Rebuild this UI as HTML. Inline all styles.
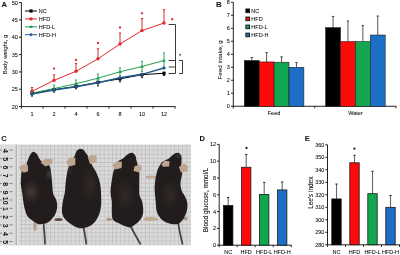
<!DOCTYPE html>
<html><head><meta charset="utf-8"><style>
html,body{margin:0;padding:0;background:#fff;}
svg{display:block;font-family:"Liberation Sans", sans-serif;filter:blur(0.35px);}
</style></head><body>
<svg width="400" height="255" viewBox="0 0 400 255">
<rect width="400" height="255" fill="#fff"/>
<text x="4.20" y="6.70" font-size="7.6" text-anchor="middle" font-weight="bold" fill="#111" stroke="#111" stroke-width="0.03" >A</text>
<line x1="21.40" y1="2.60" x2="21.40" y2="108.60" stroke="#222" stroke-width="1"/>
<line x1="20.90" y1="106.60" x2="175.50" y2="106.60" stroke="#222" stroke-width="1"/>
<line x1="19.00" y1="106.60" x2="21.40" y2="106.60" stroke="#222" stroke-width="1"/>
<text x="17.80" y="108.60" font-size="5.5" text-anchor="end" font-weight="normal" fill="#000" stroke="#000" stroke-width="0.04" >20</text>
<line x1="19.00" y1="89.27" x2="21.40" y2="89.27" stroke="#222" stroke-width="1"/>
<text x="17.80" y="91.27" font-size="5.5" text-anchor="end" font-weight="normal" fill="#000" stroke="#000" stroke-width="0.04" >25</text>
<line x1="19.00" y1="71.93" x2="21.40" y2="71.93" stroke="#222" stroke-width="1"/>
<text x="17.80" y="73.93" font-size="5.5" text-anchor="end" font-weight="normal" fill="#000" stroke="#000" stroke-width="0.04" >30</text>
<line x1="19.00" y1="54.60" x2="21.40" y2="54.60" stroke="#222" stroke-width="1"/>
<text x="17.80" y="56.60" font-size="5.5" text-anchor="end" font-weight="normal" fill="#000" stroke="#000" stroke-width="0.04" >35</text>
<line x1="19.00" y1="37.27" x2="21.40" y2="37.27" stroke="#222" stroke-width="1"/>
<text x="17.80" y="39.27" font-size="5.5" text-anchor="end" font-weight="normal" fill="#000" stroke="#000" stroke-width="0.04" >40</text>
<line x1="19.00" y1="19.93" x2="21.40" y2="19.93" stroke="#222" stroke-width="1"/>
<text x="17.80" y="21.93" font-size="5.5" text-anchor="end" font-weight="normal" fill="#000" stroke="#000" stroke-width="0.04" >45</text>
<line x1="19.00" y1="2.60" x2="21.40" y2="2.60" stroke="#222" stroke-width="1"/>
<text x="17.80" y="4.60" font-size="5.5" text-anchor="end" font-weight="normal" fill="#000" stroke="#000" stroke-width="0.04" >50</text>
<line x1="43.00" y1="106.60" x2="43.00" y2="108.60" stroke="#222" stroke-width="1"/>
<text x="32.00" y="115.60" font-size="5.5" text-anchor="middle" font-weight="normal" fill="#000" stroke="#000" stroke-width="0.04" >1</text>
<line x1="65.00" y1="106.60" x2="65.00" y2="108.60" stroke="#222" stroke-width="1"/>
<text x="54.00" y="115.60" font-size="5.5" text-anchor="middle" font-weight="normal" fill="#000" stroke="#000" stroke-width="0.04" >2</text>
<line x1="87.00" y1="106.60" x2="87.00" y2="108.60" stroke="#222" stroke-width="1"/>
<text x="76.00" y="115.60" font-size="5.5" text-anchor="middle" font-weight="normal" fill="#000" stroke="#000" stroke-width="0.04" >4</text>
<line x1="109.00" y1="106.60" x2="109.00" y2="108.60" stroke="#222" stroke-width="1"/>
<text x="98.00" y="115.60" font-size="5.5" text-anchor="middle" font-weight="normal" fill="#000" stroke="#000" stroke-width="0.04" >6</text>
<line x1="131.00" y1="106.60" x2="131.00" y2="108.60" stroke="#222" stroke-width="1"/>
<text x="120.00" y="115.60" font-size="5.5" text-anchor="middle" font-weight="normal" fill="#000" stroke="#000" stroke-width="0.04" >8</text>
<line x1="153.00" y1="106.60" x2="153.00" y2="108.60" stroke="#222" stroke-width="1"/>
<text x="142.00" y="115.60" font-size="5.5" text-anchor="middle" font-weight="normal" fill="#000" stroke="#000" stroke-width="0.04" >10</text>
<line x1="175.00" y1="106.60" x2="175.00" y2="108.60" stroke="#222" stroke-width="1"/>
<text x="164.00" y="115.60" font-size="5.5" text-anchor="middle" font-weight="normal" fill="#000" stroke="#000" stroke-width="0.04" >12</text>
<text x="0.00" y="0.00" font-size="6.1" text-anchor="middle" font-weight="normal" fill="#000" stroke="#000" stroke-width="0.04" transform="translate(6.8,54.6) rotate(-90)">Body weight, g</text>
<line x1="32.00" y1="93.43" x2="32.00" y2="95.70" stroke="#000" stroke-width="0.8"/>
<line x1="31.00" y1="95.70" x2="33.00" y2="95.70" stroke="#000" stroke-width="0.8"/>
<line x1="54.00" y1="89.61" x2="54.00" y2="92.20" stroke="#000" stroke-width="0.8"/>
<line x1="53.00" y1="92.20" x2="55.00" y2="92.20" stroke="#000" stroke-width="0.8"/>
<line x1="76.00" y1="86.49" x2="76.00" y2="88.80" stroke="#000" stroke-width="0.8"/>
<line x1="75.00" y1="88.80" x2="77.00" y2="88.80" stroke="#000" stroke-width="0.8"/>
<line x1="98.00" y1="82.33" x2="98.00" y2="86.00" stroke="#000" stroke-width="0.8"/>
<line x1="97.00" y1="86.00" x2="99.00" y2="86.00" stroke="#000" stroke-width="0.8"/>
<line x1="120.00" y1="78.87" x2="120.00" y2="81.90" stroke="#000" stroke-width="0.8"/>
<line x1="119.00" y1="81.90" x2="121.00" y2="81.90" stroke="#000" stroke-width="0.8"/>
<line x1="142.00" y1="74.71" x2="142.00" y2="77.60" stroke="#000" stroke-width="0.8"/>
<line x1="141.00" y1="77.60" x2="143.00" y2="77.60" stroke="#000" stroke-width="0.8"/>
<line x1="164.00" y1="73.22" x2="164.00" y2="75.50" stroke="#000" stroke-width="0.8"/>
<line x1="163.00" y1="75.50" x2="165.00" y2="75.50" stroke="#000" stroke-width="0.8"/>
<line x1="32.00" y1="96.55" x2="32.00" y2="89.61" stroke="#1fa04c" stroke-width="0.9"/>
<line x1="31.00" y1="89.61" x2="33.00" y2="89.61" stroke="#1fa04c" stroke-width="0.9"/>
<line x1="31.00" y1="96.55" x2="33.00" y2="96.55" stroke="#1fa04c" stroke-width="0.9"/>
<line x1="54.00" y1="91.95" x2="54.00" y2="85.20" stroke="#1fa04c" stroke-width="0.9"/>
<line x1="53.00" y1="85.20" x2="55.00" y2="85.20" stroke="#1fa04c" stroke-width="0.9"/>
<line x1="53.00" y1="91.95" x2="55.00" y2="91.95" stroke="#1fa04c" stroke-width="0.9"/>
<line x1="76.00" y1="87.44" x2="76.00" y2="80.00" stroke="#1fa04c" stroke-width="0.9"/>
<line x1="75.00" y1="80.00" x2="77.00" y2="80.00" stroke="#1fa04c" stroke-width="0.9"/>
<line x1="75.00" y1="87.44" x2="77.00" y2="87.44" stroke="#1fa04c" stroke-width="0.9"/>
<line x1="98.00" y1="82.35" x2="98.00" y2="74.00" stroke="#1fa04c" stroke-width="0.9"/>
<line x1="97.00" y1="74.00" x2="99.00" y2="74.00" stroke="#1fa04c" stroke-width="0.9"/>
<line x1="97.00" y1="82.35" x2="99.00" y2="82.35" stroke="#1fa04c" stroke-width="0.9"/>
<line x1="120.00" y1="75.62" x2="120.00" y2="67.90" stroke="#1fa04c" stroke-width="0.9"/>
<line x1="119.00" y1="67.90" x2="121.00" y2="67.90" stroke="#1fa04c" stroke-width="0.9"/>
<line x1="119.00" y1="75.62" x2="121.00" y2="75.62" stroke="#1fa04c" stroke-width="0.9"/>
<line x1="142.00" y1="71.58" x2="142.00" y2="61.40" stroke="#1fa04c" stroke-width="0.9"/>
<line x1="141.00" y1="61.40" x2="143.00" y2="61.40" stroke="#1fa04c" stroke-width="0.9"/>
<line x1="141.00" y1="71.58" x2="143.00" y2="71.58" stroke="#1fa04c" stroke-width="0.9"/>
<line x1="164.00" y1="68.09" x2="164.00" y2="52.90" stroke="#1fa04c" stroke-width="0.9"/>
<line x1="163.00" y1="52.90" x2="165.00" y2="52.90" stroke="#1fa04c" stroke-width="0.9"/>
<line x1="163.00" y1="68.09" x2="165.00" y2="68.09" stroke="#1fa04c" stroke-width="0.9"/>
<line x1="32.00" y1="91.35" x2="32.00" y2="87.50" stroke="#d42a2f" stroke-width="1.0"/>
<line x1="30.90" y1="87.50" x2="33.10" y2="87.50" stroke="#d42a2f" stroke-width="1.0"/>
<line x1="54.00" y1="80.39" x2="54.00" y2="74.90" stroke="#d42a2f" stroke-width="1.0"/>
<line x1="52.90" y1="74.90" x2="55.10" y2="74.90" stroke="#d42a2f" stroke-width="1.0"/>
<line x1="76.00" y1="71.31" x2="76.00" y2="63.50" stroke="#d42a2f" stroke-width="1.0"/>
<line x1="74.90" y1="63.50" x2="77.10" y2="63.50" stroke="#d42a2f" stroke-width="1.0"/>
<line x1="98.00" y1="58.79" x2="98.00" y2="48.70" stroke="#d42a2f" stroke-width="1.0"/>
<line x1="96.90" y1="48.70" x2="99.10" y2="48.70" stroke="#d42a2f" stroke-width="1.0"/>
<line x1="120.00" y1="43.99" x2="120.00" y2="33.00" stroke="#d42a2f" stroke-width="1.0"/>
<line x1="118.90" y1="33.00" x2="121.10" y2="33.00" stroke="#d42a2f" stroke-width="1.0"/>
<line x1="142.00" y1="30.61" x2="142.00" y2="18.50" stroke="#d42a2f" stroke-width="1.0"/>
<line x1="140.90" y1="18.50" x2="143.10" y2="18.50" stroke="#d42a2f" stroke-width="1.0"/>
<line x1="164.00" y1="23.02" x2="164.00" y2="9.70" stroke="#d42a2f" stroke-width="1.0"/>
<line x1="162.90" y1="9.70" x2="165.10" y2="9.70" stroke="#d42a2f" stroke-width="1.0"/>
<polyline points="32.00,93.43 54.00,89.61 76.00,86.49 98.00,82.33 120.00,78.87 142.00,74.71 164.00,73.22" fill="none" stroke="#000" stroke-width="1.0"/>
<polyline points="32.00,93.08 54.00,88.57 76.00,83.72 98.00,78.17 120.00,71.76 142.00,66.49 164.00,60.49" fill="none" stroke="#1fa04c" stroke-width="1.0"/>
<polyline points="32.00,91.35 54.00,80.39 76.00,71.31 98.00,58.79 120.00,43.99 142.00,30.61 164.00,23.02" fill="none" stroke="#e02a2e" stroke-width="1.0"/>
<polyline points="32.00,94.12 54.00,89.96 76.00,86.67 98.00,82.68 120.00,77.83 142.00,74.36 164.00,67.91" fill="none" stroke="#24598f" stroke-width="1.5"/>
<rect x="30.40" y="91.83" width="3.2" height="3.2" fill="#000"/>
<circle cx="32.00" cy="91.35" r="1.7" fill="#e02a2e"/>
<polygon points="30.20,94.38 33.80,94.38 32.00,91.28" fill="#1fa04c"/>
<rect x="30.60" y="92.72" width="2.8" height="2.8" fill="#24598f" transform="rotate(45 32.00 94.12)"/>
<rect x="52.40" y="88.01" width="3.2" height="3.2" fill="#000"/>
<circle cx="54.00" cy="80.39" r="1.7" fill="#e02a2e"/>
<polygon points="52.20,89.87 55.80,89.87 54.00,86.77" fill="#1fa04c"/>
<rect x="52.60" y="88.56" width="2.8" height="2.8" fill="#24598f" transform="rotate(45 54.00 89.96)"/>
<rect x="74.40" y="84.89" width="3.2" height="3.2" fill="#000"/>
<circle cx="76.00" cy="71.31" r="1.7" fill="#e02a2e"/>
<polygon points="74.20,85.02 77.80,85.02 76.00,81.92" fill="#1fa04c"/>
<rect x="74.60" y="85.27" width="2.8" height="2.8" fill="#24598f" transform="rotate(45 76.00 86.67)"/>
<rect x="96.40" y="80.73" width="3.2" height="3.2" fill="#000"/>
<circle cx="98.00" cy="58.79" r="1.7" fill="#e02a2e"/>
<polygon points="96.20,79.47 99.80,79.47 98.00,76.37" fill="#1fa04c"/>
<rect x="96.60" y="81.28" width="2.8" height="2.8" fill="#24598f" transform="rotate(45 98.00 82.68)"/>
<rect x="118.40" y="77.27" width="3.2" height="3.2" fill="#000"/>
<circle cx="120.00" cy="43.99" r="1.7" fill="#e02a2e"/>
<polygon points="118.20,73.06 121.80,73.06 120.00,69.96" fill="#1fa04c"/>
<rect x="118.60" y="76.43" width="2.8" height="2.8" fill="#24598f" transform="rotate(45 120.00 77.83)"/>
<rect x="140.40" y="73.11" width="3.2" height="3.2" fill="#000"/>
<circle cx="142.00" cy="30.61" r="1.7" fill="#e02a2e"/>
<polygon points="140.20,67.79 143.80,67.79 142.00,64.69" fill="#1fa04c"/>
<rect x="140.60" y="72.96" width="2.8" height="2.8" fill="#24598f" transform="rotate(45 142.00 74.36)"/>
<rect x="162.40" y="71.62" width="3.2" height="3.2" fill="#000"/>
<circle cx="164.00" cy="23.02" r="1.7" fill="#e02a2e"/>
<polygon points="162.20,61.79 165.80,61.79 164.00,58.69" fill="#1fa04c"/>
<rect x="162.60" y="66.51" width="2.8" height="2.8" fill="#24598f" transform="rotate(45 164.00 67.91)"/>
<circle cx="54" cy="68.6" r="1.15" fill="#d42a2f"/>
<circle cx="76" cy="60" r="1.15" fill="#d42a2f"/>
<circle cx="98" cy="43" r="1.15" fill="#d42a2f"/>
<circle cx="120" cy="27.5" r="1.15" fill="#d42a2f"/>
<circle cx="142" cy="13.3" r="1.15" fill="#d42a2f"/>
<circle cx="172.2" cy="19.2" r="1.15" fill="#d42a2f"/>
<line x1="168.60" y1="24.50" x2="175.50" y2="24.50" stroke="#3c3c3c" stroke-width="1.0"/>
<line x1="175.50" y1="24.50" x2="175.50" y2="73.50" stroke="#3c3c3c" stroke-width="1.0"/>
<line x1="168.60" y1="73.50" x2="175.50" y2="73.50" stroke="#3c3c3c" stroke-width="1.0"/>
<line x1="168.60" y1="60.50" x2="175.50" y2="60.50" stroke="#3c3c3c" stroke-width="1.0"/>
<line x1="168.60" y1="67.00" x2="175.50" y2="67.00" stroke="#3c3c3c" stroke-width="1.0"/>
<line x1="179.00" y1="60.50" x2="182.50" y2="60.50" stroke="#3c3c3c" stroke-width="1.0"/>
<line x1="182.50" y1="60.50" x2="182.50" y2="73.50" stroke="#3c3c3c" stroke-width="1.0"/>
<line x1="179.00" y1="73.50" x2="182.50" y2="73.50" stroke="#3c3c3c" stroke-width="1.0"/>
<circle cx="180.2" cy="54.8" r="1.0" fill="#3f6f62"/>
<line x1="25.00" y1="11.00" x2="37.00" y2="11.00" stroke="#000" stroke-width="1"/>
<rect x="29.4" y="9.4" width="3.2" height="3.2" fill="#000"/>
<text x="38.80" y="13.00" font-size="5.5" text-anchor="start" font-weight="normal" fill="#000" stroke="#000" stroke-width="0.04" >NC</text>
<line x1="25.00" y1="18.90" x2="37.00" y2="18.90" stroke="#e02a2e" stroke-width="1"/>
<circle cx="31" cy="18.9" r="1.7" fill="#e02a2e"/>
<text x="38.80" y="20.90" font-size="5.5" text-anchor="start" font-weight="normal" fill="#000" stroke="#000" stroke-width="0.04" >HFD</text>
<line x1="25.00" y1="26.80" x2="37.00" y2="26.80" stroke="#1fa04c" stroke-width="1"/>
<polygon points="29.2,28.1 32.8,28.1 31,25.0" fill="#1fa04c"/>
<text x="38.80" y="28.80" font-size="5.5" text-anchor="start" font-weight="normal" fill="#000" stroke="#000" stroke-width="0.04" >HFD-L</text>
<line x1="25.00" y1="34.70" x2="37.00" y2="34.70" stroke="#24598f" stroke-width="1"/>
<rect x="29.7" y="33.400000000000006" width="2.6" height="2.6" fill="#24598f" transform="rotate(45 31 34.7)"/>
<text x="38.80" y="36.70" font-size="5.5" text-anchor="start" font-weight="normal" fill="#000" stroke="#000" stroke-width="0.04" >HFD-H</text>
<text x="218.80" y="6.60" font-size="7.8" text-anchor="middle" font-weight="bold" fill="#111" stroke="#111" stroke-width="0.03" >B</text>
<line x1="233.30" y1="2.25" x2="233.30" y2="108.45" stroke="#222" stroke-width="1"/>
<line x1="232.80" y1="106.25" x2="396.20" y2="106.25" stroke="#222" stroke-width="1"/>
<line x1="231.00" y1="106.25" x2="233.30" y2="106.25" stroke="#222" stroke-width="1"/>
<text x="229.90" y="108.25" font-size="5.5" text-anchor="end" font-weight="normal" fill="#000" stroke="#000" stroke-width="0.04" >0</text>
<line x1="231.00" y1="93.25" x2="233.30" y2="93.25" stroke="#222" stroke-width="1"/>
<text x="229.90" y="95.25" font-size="5.5" text-anchor="end" font-weight="normal" fill="#000" stroke="#000" stroke-width="0.04" >1</text>
<line x1="231.00" y1="80.25" x2="233.30" y2="80.25" stroke="#222" stroke-width="1"/>
<text x="229.90" y="82.25" font-size="5.5" text-anchor="end" font-weight="normal" fill="#000" stroke="#000" stroke-width="0.04" >2</text>
<line x1="231.00" y1="67.25" x2="233.30" y2="67.25" stroke="#222" stroke-width="1"/>
<text x="229.90" y="69.25" font-size="5.5" text-anchor="end" font-weight="normal" fill="#000" stroke="#000" stroke-width="0.04" >3</text>
<line x1="231.00" y1="54.25" x2="233.30" y2="54.25" stroke="#222" stroke-width="1"/>
<text x="229.90" y="56.25" font-size="5.5" text-anchor="end" font-weight="normal" fill="#000" stroke="#000" stroke-width="0.04" >4</text>
<line x1="231.00" y1="41.25" x2="233.30" y2="41.25" stroke="#222" stroke-width="1"/>
<text x="229.90" y="43.25" font-size="5.5" text-anchor="end" font-weight="normal" fill="#000" stroke="#000" stroke-width="0.04" >5</text>
<line x1="231.00" y1="28.25" x2="233.30" y2="28.25" stroke="#222" stroke-width="1"/>
<text x="229.90" y="30.25" font-size="5.5" text-anchor="end" font-weight="normal" fill="#000" stroke="#000" stroke-width="0.04" >6</text>
<line x1="231.00" y1="15.25" x2="233.30" y2="15.25" stroke="#222" stroke-width="1"/>
<text x="229.90" y="17.25" font-size="5.5" text-anchor="end" font-weight="normal" fill="#000" stroke="#000" stroke-width="0.04" >7</text>
<line x1="231.00" y1="2.25" x2="233.30" y2="2.25" stroke="#222" stroke-width="1"/>
<text x="229.90" y="4.25" font-size="5.5" text-anchor="end" font-weight="normal" fill="#000" stroke="#000" stroke-width="0.04" >8</text>
<line x1="314.75" y1="106.25" x2="314.75" y2="108.25" stroke="#222" stroke-width="1"/>
<line x1="396.00" y1="106.25" x2="396.00" y2="108.25" stroke="#222" stroke-width="1"/>
<text x="274.00" y="115.00" font-size="5.5" text-anchor="middle" font-weight="normal" fill="#000" stroke="#000" stroke-width="0.04" >Feed</text>
<text x="355.40" y="115.10" font-size="5.5" text-anchor="middle" font-weight="normal" fill="#000" stroke="#000" stroke-width="0.04" >Water</text>
<text x="0.00" y="0.00" font-size="6.2" text-anchor="middle" font-weight="normal" fill="#000" stroke="#000" stroke-width="0.04" transform="translate(222.0,59.8) rotate(-90)">Feed intake, g</text>
<line x1="251.75" y1="60.49" x2="251.75" y2="57.50" stroke="#555" stroke-width="1.0"/>
<line x1="250.55" y1="57.50" x2="252.95" y2="57.50" stroke="#333" stroke-width="0.9"/>
<line x1="266.65" y1="61.92" x2="266.65" y2="52.56" stroke="#555" stroke-width="1.0"/>
<line x1="265.45" y1="52.56" x2="267.85" y2="52.56" stroke="#333" stroke-width="0.9"/>
<line x1="281.55" y1="62.18" x2="281.55" y2="56.85" stroke="#555" stroke-width="1.0"/>
<line x1="280.35" y1="56.85" x2="282.75" y2="56.85" stroke="#333" stroke-width="0.9"/>
<line x1="296.45" y1="67.25" x2="296.45" y2="62.57" stroke="#555" stroke-width="1.0"/>
<line x1="295.25" y1="62.57" x2="297.65" y2="62.57" stroke="#333" stroke-width="0.9"/>
<rect x="244.30" y="60.49" width="14.90" height="45.76" fill="#000" stroke="#111" stroke-width="0.5"/>
<rect x="259.20" y="61.92" width="14.90" height="44.33" fill="#ff0a0a" stroke="#111" stroke-width="0.5"/>
<rect x="274.10" y="62.18" width="14.90" height="44.07" fill="#12a650" stroke="#111" stroke-width="0.5"/>
<rect x="289.00" y="67.25" width="14.90" height="39.00" fill="#1c6fc4" stroke="#111" stroke-width="0.5"/>
<line x1="333.05" y1="27.60" x2="333.05" y2="16.42" stroke="#555" stroke-width="1.0"/>
<line x1="331.85" y1="16.42" x2="334.25" y2="16.42" stroke="#333" stroke-width="0.9"/>
<line x1="347.95" y1="41.51" x2="347.95" y2="20.97" stroke="#555" stroke-width="1.0"/>
<line x1="346.75" y1="20.97" x2="349.15" y2="20.97" stroke="#333" stroke-width="0.9"/>
<line x1="362.85" y1="41.51" x2="362.85" y2="25.65" stroke="#555" stroke-width="1.0"/>
<line x1="361.65" y1="25.65" x2="364.05" y2="25.65" stroke="#333" stroke-width="0.9"/>
<line x1="377.75" y1="35.01" x2="377.75" y2="16.03" stroke="#555" stroke-width="1.0"/>
<line x1="376.55" y1="16.03" x2="378.95" y2="16.03" stroke="#333" stroke-width="0.9"/>
<rect x="325.60" y="27.60" width="14.90" height="78.65" fill="#000" stroke="#111" stroke-width="0.5"/>
<rect x="340.50" y="41.51" width="14.90" height="64.74" fill="#ff0a0a" stroke="#111" stroke-width="0.5"/>
<rect x="355.40" y="41.51" width="14.90" height="64.74" fill="#12a650" stroke="#111" stroke-width="0.5"/>
<rect x="370.30" y="35.01" width="14.90" height="71.24" fill="#1c6fc4" stroke="#111" stroke-width="0.5"/>
<rect x="245.90" y="9.00" width="3.60" height="3.60" fill="#000" stroke="#1a1a1a" stroke-width="1.0"/>
<text x="251.30" y="12.70" font-size="5.5" text-anchor="start" font-weight="normal" fill="#000" stroke="#000" stroke-width="0.04" >NC</text>
<rect x="245.90" y="17.05" width="3.60" height="3.60" fill="#ff0a0a" stroke="#1a1a1a" stroke-width="1.0"/>
<text x="251.30" y="20.75" font-size="5.5" text-anchor="start" font-weight="normal" fill="#000" stroke="#000" stroke-width="0.04" >HFD</text>
<rect x="245.90" y="25.10" width="3.60" height="3.60" fill="#12a650" stroke="#1a1a1a" stroke-width="1.0"/>
<text x="251.30" y="28.80" font-size="5.5" text-anchor="start" font-weight="normal" fill="#000" stroke="#000" stroke-width="0.04" >HFD-L</text>
<rect x="245.90" y="33.15" width="3.60" height="3.60" fill="#1c6fc4" stroke="#1a1a1a" stroke-width="1.0"/>
<text x="251.30" y="36.85" font-size="5.5" text-anchor="start" font-weight="normal" fill="#000" stroke="#000" stroke-width="0.04" >HFD-H</text>
<text x="202.20" y="141.10" font-size="7.6" text-anchor="middle" font-weight="bold" fill="#111" stroke="#111" stroke-width="0.03" >D</text>
<line x1="219.20" y1="144.40" x2="219.20" y2="247.20" stroke="#222" stroke-width="1"/>
<line x1="218.70" y1="245.20" x2="291.70" y2="245.20" stroke="#222" stroke-width="1"/>
<line x1="217.00" y1="245.20" x2="219.20" y2="245.20" stroke="#222" stroke-width="1"/>
<text x="216.10" y="247.20" font-size="5.5" text-anchor="end" font-weight="normal" fill="#000" stroke="#000" stroke-width="0.04" >0</text>
<line x1="217.00" y1="228.40" x2="219.20" y2="228.40" stroke="#222" stroke-width="1"/>
<text x="216.10" y="230.40" font-size="5.5" text-anchor="end" font-weight="normal" fill="#000" stroke="#000" stroke-width="0.04" >2</text>
<line x1="217.00" y1="211.60" x2="219.20" y2="211.60" stroke="#222" stroke-width="1"/>
<text x="216.10" y="213.60" font-size="5.5" text-anchor="end" font-weight="normal" fill="#000" stroke="#000" stroke-width="0.04" >4</text>
<line x1="217.00" y1="194.80" x2="219.20" y2="194.80" stroke="#222" stroke-width="1"/>
<text x="216.10" y="196.80" font-size="5.5" text-anchor="end" font-weight="normal" fill="#000" stroke="#000" stroke-width="0.04" >6</text>
<line x1="217.00" y1="178.00" x2="219.20" y2="178.00" stroke="#222" stroke-width="1"/>
<text x="216.10" y="180.00" font-size="5.5" text-anchor="end" font-weight="normal" fill="#000" stroke="#000" stroke-width="0.04" >8</text>
<line x1="217.00" y1="161.20" x2="219.20" y2="161.20" stroke="#222" stroke-width="1"/>
<text x="216.10" y="163.20" font-size="5.5" text-anchor="end" font-weight="normal" fill="#000" stroke="#000" stroke-width="0.04" >10</text>
<line x1="217.00" y1="144.40" x2="219.20" y2="144.40" stroke="#222" stroke-width="1"/>
<text x="216.10" y="146.40" font-size="5.5" text-anchor="end" font-weight="normal" fill="#000" stroke="#000" stroke-width="0.04" >12</text>
<line x1="237.20" y1="245.20" x2="237.20" y2="247.20" stroke="#222" stroke-width="1"/>
<line x1="255.20" y1="245.20" x2="255.20" y2="247.20" stroke="#222" stroke-width="1"/>
<line x1="273.20" y1="245.20" x2="273.20" y2="247.20" stroke="#222" stroke-width="1"/>
<line x1="291.20" y1="245.20" x2="291.20" y2="247.20" stroke="#222" stroke-width="1"/>
<line x1="228.20" y1="205.55" x2="228.20" y2="197.49" stroke="#666" stroke-width="1.1"/>
<line x1="227.10" y1="197.49" x2="229.30" y2="197.49" stroke="#222" stroke-width="1.0"/>
<rect x="223.50" y="205.55" width="9.40" height="39.65" fill="#000" stroke="#111" stroke-width="0.75"/>
<text x="228.20" y="253.50" font-size="5.5" text-anchor="middle" font-weight="normal" fill="#000" stroke="#000" stroke-width="0.04" >NC</text>
<line x1="246.20" y1="167.25" x2="246.20" y2="154.48" stroke="#666" stroke-width="1.1"/>
<line x1="245.10" y1="154.48" x2="247.30" y2="154.48" stroke="#222" stroke-width="1.0"/>
<rect x="241.50" y="167.25" width="9.40" height="77.95" fill="#ff0a0a" stroke="#111" stroke-width="0.75"/>
<text x="246.20" y="253.50" font-size="5.5" text-anchor="middle" font-weight="normal" fill="#000" stroke="#000" stroke-width="0.04" >HFD</text>
<line x1="264.20" y1="194.38" x2="264.20" y2="182.37" stroke="#666" stroke-width="1.1"/>
<line x1="263.10" y1="182.37" x2="265.30" y2="182.37" stroke="#222" stroke-width="1.0"/>
<rect x="259.50" y="194.38" width="9.40" height="50.82" fill="#12a650" stroke="#111" stroke-width="0.75"/>
<text x="264.20" y="253.50" font-size="5.5" text-anchor="middle" font-weight="normal" fill="#000" stroke="#000" stroke-width="0.04" >HFD-L</text>
<line x1="282.20" y1="189.93" x2="282.20" y2="182.03" stroke="#666" stroke-width="1.1"/>
<line x1="281.10" y1="182.03" x2="283.30" y2="182.03" stroke="#222" stroke-width="1.0"/>
<rect x="277.50" y="189.93" width="9.40" height="55.27" fill="#1c6fc4" stroke="#111" stroke-width="0.75"/>
<text x="282.20" y="253.50" font-size="5.5" text-anchor="middle" font-weight="normal" fill="#000" stroke="#000" stroke-width="0.04" >HFD-H</text>
<text x="0.00" y="0.00" font-size="6.4" text-anchor="middle" font-weight="normal" fill="#000" stroke="#000" stroke-width="0.04" transform="translate(208.4,199.9) rotate(-90)">Blood glucose, mmol/L</text>
<circle cx="246.5" cy="148" r="1.15" fill="#222"/>
<text x="307.20" y="141.10" font-size="7.6" text-anchor="middle" font-weight="bold" fill="#111" stroke="#111" stroke-width="0.03" >E</text>
<line x1="327.50" y1="144.80" x2="327.50" y2="246.80" stroke="#222" stroke-width="1"/>
<line x1="327.00" y1="244.80" x2="400.00" y2="244.80" stroke="#222" stroke-width="1"/>
<line x1="325.30" y1="244.80" x2="327.50" y2="244.80" stroke="#222" stroke-width="1"/>
<text x="324.40" y="246.80" font-size="5.5" text-anchor="end" font-weight="normal" fill="#000" stroke="#000" stroke-width="0.04" >280</text>
<line x1="325.30" y1="232.30" x2="327.50" y2="232.30" stroke="#222" stroke-width="1"/>
<text x="324.40" y="234.30" font-size="5.5" text-anchor="end" font-weight="normal" fill="#000" stroke="#000" stroke-width="0.04" >290</text>
<line x1="325.30" y1="219.80" x2="327.50" y2="219.80" stroke="#222" stroke-width="1"/>
<text x="324.40" y="221.80" font-size="5.5" text-anchor="end" font-weight="normal" fill="#000" stroke="#000" stroke-width="0.04" >300</text>
<line x1="325.30" y1="207.30" x2="327.50" y2="207.30" stroke="#222" stroke-width="1"/>
<text x="324.40" y="209.30" font-size="5.5" text-anchor="end" font-weight="normal" fill="#000" stroke="#000" stroke-width="0.04" >310</text>
<line x1="325.30" y1="194.80" x2="327.50" y2="194.80" stroke="#222" stroke-width="1"/>
<text x="324.40" y="196.80" font-size="5.5" text-anchor="end" font-weight="normal" fill="#000" stroke="#000" stroke-width="0.04" >320</text>
<line x1="325.30" y1="182.30" x2="327.50" y2="182.30" stroke="#222" stroke-width="1"/>
<text x="324.40" y="184.30" font-size="5.5" text-anchor="end" font-weight="normal" fill="#000" stroke="#000" stroke-width="0.04" >330</text>
<line x1="325.30" y1="169.80" x2="327.50" y2="169.80" stroke="#222" stroke-width="1"/>
<text x="324.40" y="171.80" font-size="5.5" text-anchor="end" font-weight="normal" fill="#000" stroke="#000" stroke-width="0.04" >340</text>
<line x1="325.30" y1="157.30" x2="327.50" y2="157.30" stroke="#222" stroke-width="1"/>
<text x="324.40" y="159.30" font-size="5.5" text-anchor="end" font-weight="normal" fill="#000" stroke="#000" stroke-width="0.04" >350</text>
<line x1="325.30" y1="144.80" x2="327.50" y2="144.80" stroke="#222" stroke-width="1"/>
<text x="324.40" y="146.80" font-size="5.5" text-anchor="end" font-weight="normal" fill="#000" stroke="#000" stroke-width="0.04" >360</text>
<line x1="345.50" y1="244.80" x2="345.50" y2="246.80" stroke="#222" stroke-width="1"/>
<line x1="363.50" y1="244.80" x2="363.50" y2="246.80" stroke="#222" stroke-width="1"/>
<line x1="381.50" y1="244.80" x2="381.50" y2="246.80" stroke="#222" stroke-width="1"/>
<line x1="399.50" y1="244.80" x2="399.50" y2="246.80" stroke="#222" stroke-width="1"/>
<line x1="336.50" y1="198.93" x2="336.50" y2="184.05" stroke="#666" stroke-width="1.1"/>
<line x1="335.40" y1="184.05" x2="337.60" y2="184.05" stroke="#222" stroke-width="1.0"/>
<rect x="331.80" y="198.93" width="9.40" height="45.88" fill="#000" stroke="#111" stroke-width="0.75"/>
<text x="336.50" y="253.50" font-size="5.5" text-anchor="middle" font-weight="normal" fill="#000" stroke="#000" stroke-width="0.04" >NC</text>
<line x1="354.50" y1="162.80" x2="354.50" y2="155.30" stroke="#666" stroke-width="1.1"/>
<line x1="353.40" y1="155.30" x2="355.60" y2="155.30" stroke="#222" stroke-width="1.0"/>
<rect x="349.80" y="162.80" width="9.40" height="82.00" fill="#ff0a0a" stroke="#111" stroke-width="0.75"/>
<text x="354.50" y="253.50" font-size="5.5" text-anchor="middle" font-weight="normal" fill="#000" stroke="#000" stroke-width="0.04" >HFD</text>
<line x1="372.50" y1="193.68" x2="372.50" y2="171.30" stroke="#666" stroke-width="1.1"/>
<line x1="371.40" y1="171.30" x2="373.60" y2="171.30" stroke="#222" stroke-width="1.0"/>
<rect x="367.80" y="193.68" width="9.40" height="51.12" fill="#12a650" stroke="#111" stroke-width="0.75"/>
<text x="372.50" y="253.50" font-size="5.5" text-anchor="middle" font-weight="normal" fill="#000" stroke="#000" stroke-width="0.04" >HFD-L</text>
<line x1="390.50" y1="207.30" x2="390.50" y2="195.55" stroke="#666" stroke-width="1.1"/>
<line x1="389.40" y1="195.55" x2="391.60" y2="195.55" stroke="#222" stroke-width="1.0"/>
<rect x="385.80" y="207.30" width="9.40" height="37.50" fill="#1c6fc4" stroke="#111" stroke-width="0.75"/>
<text x="390.50" y="253.50" font-size="5.5" text-anchor="middle" font-weight="normal" fill="#000" stroke="#000" stroke-width="0.04" >HFD-H</text>
<text x="0.00" y="0.00" font-size="6.4" text-anchor="middle" font-weight="normal" fill="#000" stroke="#000" stroke-width="0.04" transform="translate(312.5,192.7) rotate(-90)">Lee's index</text>
<circle cx="354.4" cy="148.7" r="1.15" fill="#222"/>
<text x="4.00" y="141.40" font-size="7.6" text-anchor="middle" font-weight="bold" fill="#111" stroke="#111" stroke-width="0.03" >C</text>
<defs><pattern id="grid" x="0.5" y="1" width="4.13" height="4.13" patternUnits="userSpaceOnUse"><rect width="4.13" height="4.13" fill="#dadadb"/><path d="M0 0.3H4.13M0.3 0V4.13" stroke="#b9b9bb" stroke-width="0.7"/></pattern><filter id="blur1" x="-20%" y="-20%" width="140%" height="140%"><feGaussianBlur stdDeviation="0.8"/></filter><filter id="blur2" x="-20%" y="-20%" width="140%" height="140%"><feGaussianBlur stdDeviation="0.5"/></filter><radialGradient id="hlg"><stop offset="0" stop-color="#b0a090" stop-opacity="0.22"/><stop offset="1" stop-color="#b0a090" stop-opacity="0"/></radialGradient><radialGradient id="hlg2"><stop offset="0" stop-color="#b0a090" stop-opacity="0.10"/><stop offset="1" stop-color="#b0a090" stop-opacity="0"/></radialGradient></defs>
<rect x="0" y="144.7" width="190.7" height="100.5" fill="#d9d9da"/>
<rect x="0" y="144.7" width="190.7" height="100.5" fill="url(#grid)"/>
<rect x="0" y="144.7" width="16.2" height="100.5" fill="#dcdcdc"/>
<rect x="15.6" y="144.7" width="1.4" height="100.5" fill="#b4b4b6" filter="url(#blur2)"/>
<rect x="17" y="144.7" width="1.6" height="100.5" fill="#e2e2e3"/>
<text x="0" y="0" font-size="7.0" font-weight="bold" text-anchor="middle" fill="#111" transform="translate(3.0,150.90) rotate(90)">4</text>
<line x1="9.3" y1="150.20" x2="12.7" y2="150.20" stroke="#666" stroke-width="0.7"/>
<line x1="0" y1="150.20" x2="2" y2="150.20" stroke="#666" stroke-width="0.7"/>
<text x="0" y="0" font-size="7.0" font-weight="bold" text-anchor="middle" fill="#111" transform="translate(3.0,159.20) rotate(90)">5</text>
<line x1="9.3" y1="158.50" x2="12.7" y2="158.50" stroke="#666" stroke-width="0.7"/>
<line x1="0" y1="158.50" x2="2" y2="158.50" stroke="#666" stroke-width="0.7"/>
<text x="0" y="0" font-size="7.0" font-weight="bold" text-anchor="middle" fill="#111" transform="translate(3.0,167.50) rotate(90)">6</text>
<line x1="9.3" y1="166.80" x2="12.7" y2="166.80" stroke="#666" stroke-width="0.7"/>
<line x1="0" y1="166.80" x2="2" y2="166.80" stroke="#666" stroke-width="0.7"/>
<text x="0" y="0" font-size="7.0" font-weight="bold" text-anchor="middle" fill="#111" transform="translate(3.0,175.80) rotate(90)">7</text>
<line x1="9.3" y1="175.10" x2="12.7" y2="175.10" stroke="#666" stroke-width="0.7"/>
<line x1="0" y1="175.10" x2="2" y2="175.10" stroke="#666" stroke-width="0.7"/>
<text x="0" y="0" font-size="7.0" font-weight="bold" text-anchor="middle" fill="#111" transform="translate(3.0,184.10) rotate(90)">8</text>
<line x1="9.3" y1="183.40" x2="12.7" y2="183.40" stroke="#666" stroke-width="0.7"/>
<line x1="0" y1="183.40" x2="2" y2="183.40" stroke="#666" stroke-width="0.7"/>
<text x="0" y="0" font-size="7.0" font-weight="bold" text-anchor="middle" fill="#111" transform="translate(3.0,192.40) rotate(90)">9</text>
<line x1="9.3" y1="191.70" x2="12.7" y2="191.70" stroke="#666" stroke-width="0.7"/>
<line x1="0" y1="191.70" x2="2" y2="191.70" stroke="#666" stroke-width="0.7"/>
<text x="0" y="0" font-size="7.0" font-weight="bold" text-anchor="middle" fill="#111" transform="translate(3.0,200.70) rotate(90)">10</text>
<line x1="9.3" y1="200.00" x2="12.7" y2="200.00" stroke="#666" stroke-width="0.7"/>
<line x1="0" y1="200.00" x2="2" y2="200.00" stroke="#666" stroke-width="0.7"/>
<text x="0" y="0" font-size="7.0" font-weight="bold" text-anchor="middle" fill="#111" transform="translate(3.0,209.00) rotate(90)">1</text>
<line x1="9.3" y1="208.30" x2="12.7" y2="208.30" stroke="#666" stroke-width="0.7"/>
<line x1="0" y1="208.30" x2="2" y2="208.30" stroke="#666" stroke-width="0.7"/>
<text x="0" y="0" font-size="7.0" font-weight="bold" text-anchor="middle" fill="#111" transform="translate(3.0,217.30) rotate(90)">2</text>
<line x1="9.3" y1="216.60" x2="12.7" y2="216.60" stroke="#666" stroke-width="0.7"/>
<line x1="0" y1="216.60" x2="2" y2="216.60" stroke="#666" stroke-width="0.7"/>
<text x="0" y="0" font-size="7.0" font-weight="bold" text-anchor="middle" fill="#111" transform="translate(3.0,225.60) rotate(90)">3</text>
<line x1="9.3" y1="224.90" x2="12.7" y2="224.90" stroke="#666" stroke-width="0.7"/>
<line x1="0" y1="224.90" x2="2" y2="224.90" stroke="#666" stroke-width="0.7"/>
<text x="0" y="0" font-size="7.0" font-weight="bold" text-anchor="middle" fill="#111" transform="translate(3.0,233.90) rotate(90)">4</text>
<line x1="9.3" y1="233.20" x2="12.7" y2="233.20" stroke="#666" stroke-width="0.7"/>
<line x1="0" y1="233.20" x2="2" y2="233.20" stroke="#666" stroke-width="0.7"/>
<text x="0" y="0" font-size="7.0" font-weight="bold" text-anchor="middle" fill="#111" transform="translate(3.0,242.20) rotate(90)">5</text>
<line x1="9.3" y1="241.50" x2="12.7" y2="241.50" stroke="#666" stroke-width="0.7"/>
<line x1="0" y1="241.50" x2="2" y2="241.50" stroke="#666" stroke-width="0.7"/>
<path d="M43.5,223 C44.2,230 44.8,237 45,244.5" stroke="#4e423c" stroke-width="1.8" fill="none" filter="url(#blur2)"/>
<ellipse cx="35" cy="226" rx="1.7" ry="5" fill="#b8a089" filter="url(#blur2)"/>
<path d="M32.60,151.90 C33.75,151.57 35.45,152.67 36.60,153.80 C37.75,154.93 38.60,157.42 39.50,158.70 C40.40,159.98 40.37,160.35 42.00,161.50 C43.63,162.65 47.75,163.45 49.30,165.60 C50.85,167.75 50.80,171.17 51.30,174.40 C51.80,177.63 51.98,181.77 52.30,185.00 C52.62,188.23 52.55,191.35 53.20,193.80 C53.85,196.25 55.53,197.57 56.20,199.70 C56.87,201.83 57.37,204.15 57.20,206.60 C57.03,209.05 56.68,211.78 55.20,214.40 C53.72,217.02 50.75,220.67 48.30,222.30 C45.85,223.93 42.45,224.05 40.50,224.20 C38.55,224.35 38.23,224.02 36.60,223.20 C34.97,222.38 32.33,220.67 30.70,219.30 C29.07,217.93 27.95,217.38 26.80,215.00 C25.65,212.62 24.52,208.33 23.80,205.00 C23.08,201.67 22.98,198.33 22.50,195.00 C22.02,191.67 21.17,187.45 20.90,185.00 C20.63,182.55 20.73,182.72 20.90,180.30 C21.07,177.88 21.08,172.78 21.90,170.50 C22.72,168.22 24.92,168.07 25.80,166.60 C26.68,165.13 26.55,163.50 27.20,161.70 C27.85,159.90 28.80,157.43 29.70,155.80 C30.60,154.17 31.45,152.23 32.60,151.90 Z" fill="#241f1d" filter="url(#blur2)"/>
<ellipse cx="31" cy="192" rx="10" ry="12" fill="url(#hlg)"/>
<ellipse cx="49" cy="174" rx="4" ry="6" fill="url(#hlg)"/>
<polygon points="18.5,167.8 22.5,164.6 27.8,164.8 28.2,171.2 23.5,172.8" fill="#bca690" filter="url(#blur2)"/>
<polygon points="40.6,162.5 45,159 52.6,158.8 52.2,163.8 45.5,166.4" fill="#bca690" filter="url(#blur2)"/>
<path d="M83.5,227 C84.5,232 85.8,239 86.4,244.5" stroke="#4e423c" stroke-width="1.8" fill="none" filter="url(#blur2)"/>
<ellipse cx="58.5" cy="219.5" rx="4" ry="1.5" fill="#5e4e44" filter="url(#blur2)"/>
<path d="M79.60,148.90 C80.75,148.73 82.37,149.08 83.50,149.90 C84.63,150.72 85.58,152.62 86.40,153.80 C87.22,154.98 87.42,155.03 88.40,157.00 C89.38,158.97 90.83,162.70 92.30,165.60 C93.77,168.50 95.88,171.30 97.20,174.40 C98.52,177.50 99.55,180.77 100.20,184.20 C100.85,187.63 100.95,191.42 101.10,195.00 C101.25,198.58 101.43,202.45 101.10,205.70 C100.77,208.95 100.08,211.88 99.10,214.50 C98.12,217.12 96.83,219.43 95.20,221.40 C93.57,223.37 91.42,225.17 89.30,226.30 C87.18,227.43 84.62,228.03 82.50,228.20 C80.38,228.37 78.90,228.27 76.60,227.30 C74.30,226.33 70.83,224.03 68.70,222.40 C66.57,220.77 64.93,219.30 63.80,217.50 C62.67,215.70 62.07,214.22 61.90,211.60 C61.73,208.98 62.30,205.07 62.80,201.80 C63.30,198.53 64.45,194.93 64.90,192.00 C65.35,189.07 65.18,187.13 65.50,184.20 C65.82,181.27 66.25,177.33 66.80,174.40 C67.35,171.47 67.82,169.22 68.80,166.60 C69.78,163.98 71.72,160.50 72.70,158.70 C73.68,156.90 74.05,157.10 74.70,155.80 C75.35,154.50 75.78,152.05 76.60,150.90 C77.42,149.75 78.45,149.07 79.60,148.90 Z" fill="#241f1d" filter="url(#blur2)"/>
<ellipse cx="90" cy="185" rx="9" ry="18" fill="url(#hlg2)"/>
<ellipse cx="70" cy="170" rx="4" ry="6" fill="url(#hlg2)"/>
<polygon points="66.2,161.5 70,157.5 75.3,157.6 75.3,165 68.5,166.4" fill="#bca690" filter="url(#blur2)"/>
<polygon points="87.7,157 92,155.1 96.7,155.6 96.5,162.5 90,164.1" fill="#bca690" filter="url(#blur2)"/>
<path d="M130.5,226 C133,231 137,238 140.6,244.5" stroke="#4e423c" stroke-width="1.8" fill="none" filter="url(#blur2)"/>
<ellipse cx="109.2" cy="219.4" rx="3" ry="1.4" fill="#a89480" filter="url(#blur2)"/>
<ellipse cx="148.5" cy="218.9" rx="4.5" ry="1.8" fill="#c2ab95" filter="url(#blur2)"/>
<path d="M132.40,152.80 C133.55,153.13 134.75,154.65 135.40,155.80 C136.05,156.95 135.87,158.00 136.30,159.70 C136.73,161.40 137.50,163.87 138.00,166.00 C138.50,168.13 139.08,169.47 139.30,172.50 C139.52,175.53 139.27,180.45 139.30,184.20 C139.33,187.95 139.02,192.07 139.50,195.00 C139.98,197.93 141.58,199.03 142.20,201.80 C142.82,204.57 143.37,208.83 143.20,211.60 C143.03,214.37 142.50,216.28 141.20,218.40 C139.90,220.52 137.18,222.82 135.40,224.30 C133.62,225.78 132.15,226.97 130.50,227.30 C128.85,227.63 127.47,226.97 125.50,226.30 C123.53,225.63 120.82,224.45 118.70,223.30 C116.58,222.15 113.95,221.35 112.80,219.40 C111.65,217.45 111.97,214.53 111.80,211.60 C111.63,208.67 112.02,205.07 111.80,201.80 C111.58,198.53 110.50,195.58 110.50,192.00 C110.50,188.42 111.25,183.88 111.80,180.30 C112.35,176.72 112.82,173.60 113.80,170.50 C114.78,167.40 116.23,163.67 117.70,161.70 C119.17,159.73 120.80,160.02 122.60,158.70 C124.40,157.38 126.87,154.78 128.50,153.80 C130.13,152.82 131.25,152.47 132.40,152.80 Z" fill="#241f1d" filter="url(#blur2)"/>
<ellipse cx="125" cy="195" rx="10" ry="16" fill="url(#hlg2)"/>
<polygon points="112.5,165 116.5,161.6 122,161.8 121.5,168 115,169.5" fill="#bca690" filter="url(#blur2)"/>
<polygon points="134.5,166.2 140,164.5 141.8,168 139.5,172.5 133.5,171" fill="#bca690" filter="url(#blur2)"/>
<path d="M178.3,223 C179,230 181,237 182.6,244.5" stroke="#4e423c" stroke-width="1.8" fill="none" filter="url(#blur2)"/>
<ellipse cx="151" cy="218.9" rx="7.5" ry="1.8" fill="#c2ab95" filter="url(#blur2)"/>
<ellipse cx="151" cy="177" rx="5.5" ry="1.6" fill="#c2ab95" filter="url(#blur2)"/>
<ellipse cx="185" cy="218.5" rx="2.8" ry="1.6" fill="#a8907a" filter="url(#blur2)"/>
<path d="M178.30,152.80 C179.43,153.13 180.67,154.32 181.20,155.80 C181.73,157.28 181.53,159.67 181.50,161.70 C181.47,163.73 180.88,166.20 181.00,168.00 C181.12,169.80 182.28,169.80 182.20,172.50 C182.12,175.20 180.50,180.95 180.50,184.20 C180.50,187.45 181.58,190.20 182.20,192.00 C182.82,193.80 183.38,193.37 184.20,195.00 C185.02,196.63 186.62,199.37 187.10,201.80 C187.58,204.23 187.58,206.98 187.10,209.60 C186.62,212.22 185.50,215.22 184.20,217.50 C182.90,219.78 180.93,222.17 179.30,223.30 C177.67,224.43 176.53,224.45 174.40,224.30 C172.27,224.15 168.80,223.38 166.50,222.40 C164.20,221.42 162.23,220.20 160.60,218.40 C158.97,216.60 157.52,214.37 156.70,211.60 C155.88,208.83 156.02,205.07 155.70,201.80 C155.38,198.53 154.95,194.93 154.80,192.00 C154.65,189.07 154.48,187.45 154.80,184.20 C155.12,180.95 155.88,175.60 156.70,172.50 C157.52,169.40 158.72,167.40 159.70,165.60 C160.68,163.80 161.13,162.85 162.60,161.70 C164.07,160.55 166.53,160.02 168.50,158.70 C170.47,157.38 172.77,154.78 174.40,153.80 C176.03,152.82 177.17,152.47 178.30,152.80 Z" fill="#241f1d" filter="url(#blur2)"/>
<ellipse cx="170" cy="195" rx="10" ry="16" fill="url(#hlg2)"/>
<ellipse cx="178" cy="156" rx="3" ry="3" fill="url(#hlg)"/>
<polygon points="161.4,164.2 164.5,160.8 169.5,161.3 169.2,166.6 163,166.8" fill="#bca690" filter="url(#blur2)"/>
<polygon points="178.8,167 184,163.5 188.2,166 187.2,171.5 181,172.6" fill="#bca690" filter="url(#blur2)"/>
</svg></body></html>
